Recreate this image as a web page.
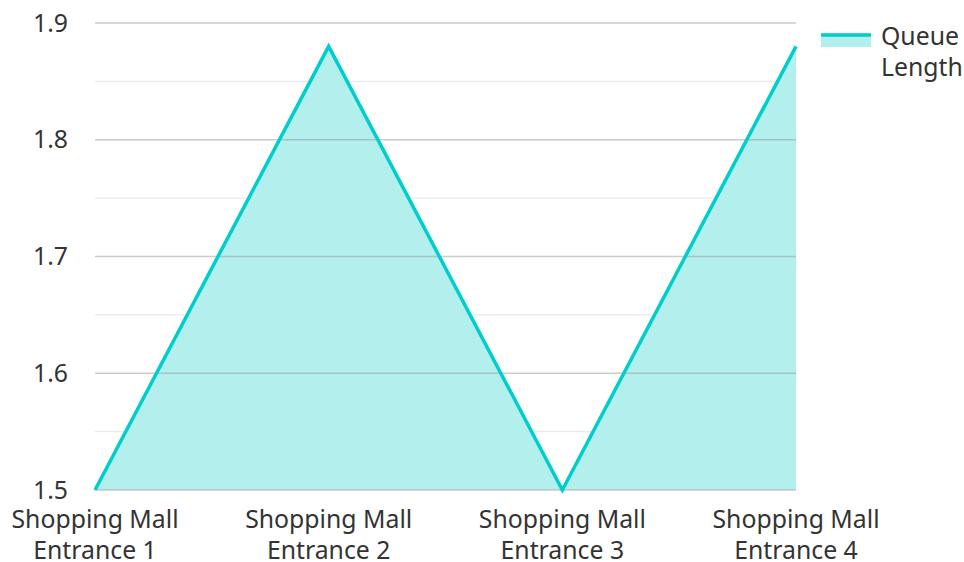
<!DOCTYPE html>
<html>
<head>
<meta charset="utf-8">
<script src="https://cdn.jsdelivr.net/npm/d3@7"></script>
<style>
  body { margin: 0; background: #fff; }
  text { font-family: "Noto Sans", "Open Sans", sans-serif; fill: #333; }
</style>
</head>
<body>
<div id="chart"></div>
<script>
const categories = [
  "Shopping Mall Entrance 1",
  "Shopping Mall Entrance 2",
  "Shopping Mall Entrance 3",
  "Shopping Mall Entrance 4",
];
const queueLength = [1.5, 1.88, 1.5, 1.88];
const yTicks = [1.5, 1.6, 1.7, 1.8, 1.9];
const yMinorTicks = [1.55, 1.65, 1.75, 1.85];
const seriesName = ["Queue", "Length"];

const WIDTH = 964;
const HEIGHT = 562;
const MARGIN = { TOP: 23, RIGHT: 168, BOTTOM: 72, LEFT: 95 };
const LINE_COLOR = "#00cecb";
const FILL_COLOR = "#b2efed";
const FONT_SIZE = 24.8;

const svg = d3
  .select("#chart")
  .append("svg")
  .attr("width", WIDTH)
  .attr("height", HEIGHT);

const xScale = d3
  .scalePoint()
  .domain(categories)
  .range([MARGIN.LEFT, WIDTH - MARGIN.RIGHT]);

const yScale = d3
  .scaleLinear()
  .domain([1.5, 1.9])
  .range([HEIGHT - MARGIN.BOTTOM, MARGIN.TOP]);

// minor grid
svg
  .append("g")
  .selectAll("line")
  .data(yMinorTicks)
  .join("line")
  .attr("x1", MARGIN.LEFT)
  .attr("x2", WIDTH - MARGIN.RIGHT)
  .attr("y1", (d) => yScale(d))
  .attr("y2", (d) => yScale(d))
  .attr("stroke", "#e6e6e6")
  .attr("stroke-width", 1);

// area fill
const points = categories.map((c, i) => ({ c, v: queueLength[i] }));
svg
  .append("path")
  .datum(points)
  .attr("fill", FILL_COLOR)
  .attr(
    "d",
    d3
      .area()
      .x((d) => xScale(d.c))
      .y0(yScale(1.5))
      .y1((d) => yScale(d.v))
  );

// major grid (drawn over fill, slightly translucent)
svg
  .append("g")
  .selectAll("line")
  .data(yTicks)
  .join("line")
  .attr("x1", MARGIN.LEFT)
  .attr("x2", WIDTH - MARGIN.RIGHT)
  .attr("y1", (d) => yScale(d))
  .attr("y2", (d) => yScale(d))
  .attr("stroke", "#999")
  .attr("stroke-opacity", 0.5)
  .attr("stroke-width", 1.5);

// line
svg
  .append("path")
  .datum(points)
  .attr("fill", "none")
  .attr("stroke", LINE_COLOR)
  .attr("stroke-width", 3.5)
  .attr("stroke-linejoin", "miter")
  .attr(
    "d",
    d3
      .line()
      .x((d) => xScale(d.c))
      .y((d) => yScale(d.v))
  );

// y labels
svg
  .append("g")
  .selectAll("text")
  .data(yTicks)
  .join("text")
  .attr("x", 68)
  .attr("y", (d) => yScale(d))
  .attr("dy", "0.35em")
  .attr("text-anchor", "end")
  .attr("font-size", FONT_SIZE)
  .text((d) => d3.format(".1f")(d));

// x labels, two lines each
const xLabels = svg
  .append("g")
  .selectAll("text")
  .data(categories)
  .join("text")
  .attr("x", (d) => xScale(d))
  .attr("y", 528)
  .attr("text-anchor", "middle")
  .attr("font-size", FONT_SIZE);

xLabels
  .append("tspan")
  .attr("x", (d) => xScale(d))
  .text((d) => d.split(" ").slice(0, 2).join(" "));
xLabels
  .append("tspan")
  .attr("x", (d) => xScale(d))
  .attr("dy", 31)
  .text((d) => d.split(" ").slice(2).join(" "));

// legend
const legend = svg.append("g").attr("transform", "translate(821, 33)");
legend
  .append("rect")
  .attr("width", 50)
  .attr("height", 14)
  .attr("fill", FILL_COLOR);
legend
  .append("line")
  .attr("x1", 0)
  .attr("x2", 50)
  .attr("y1", 2)
  .attr("y2", 2)
  .attr("stroke", LINE_COLOR)
  .attr("stroke-width", 3.5);
legend
  .selectAll("text")
  .data(seriesName)
  .join("text")
  .attr("x", 60)
  .attr("y", (d, i) => 12 + i * 31)
  .attr("font-size", FONT_SIZE)
  .text((d) => d);
</script>
</body>
</html>
